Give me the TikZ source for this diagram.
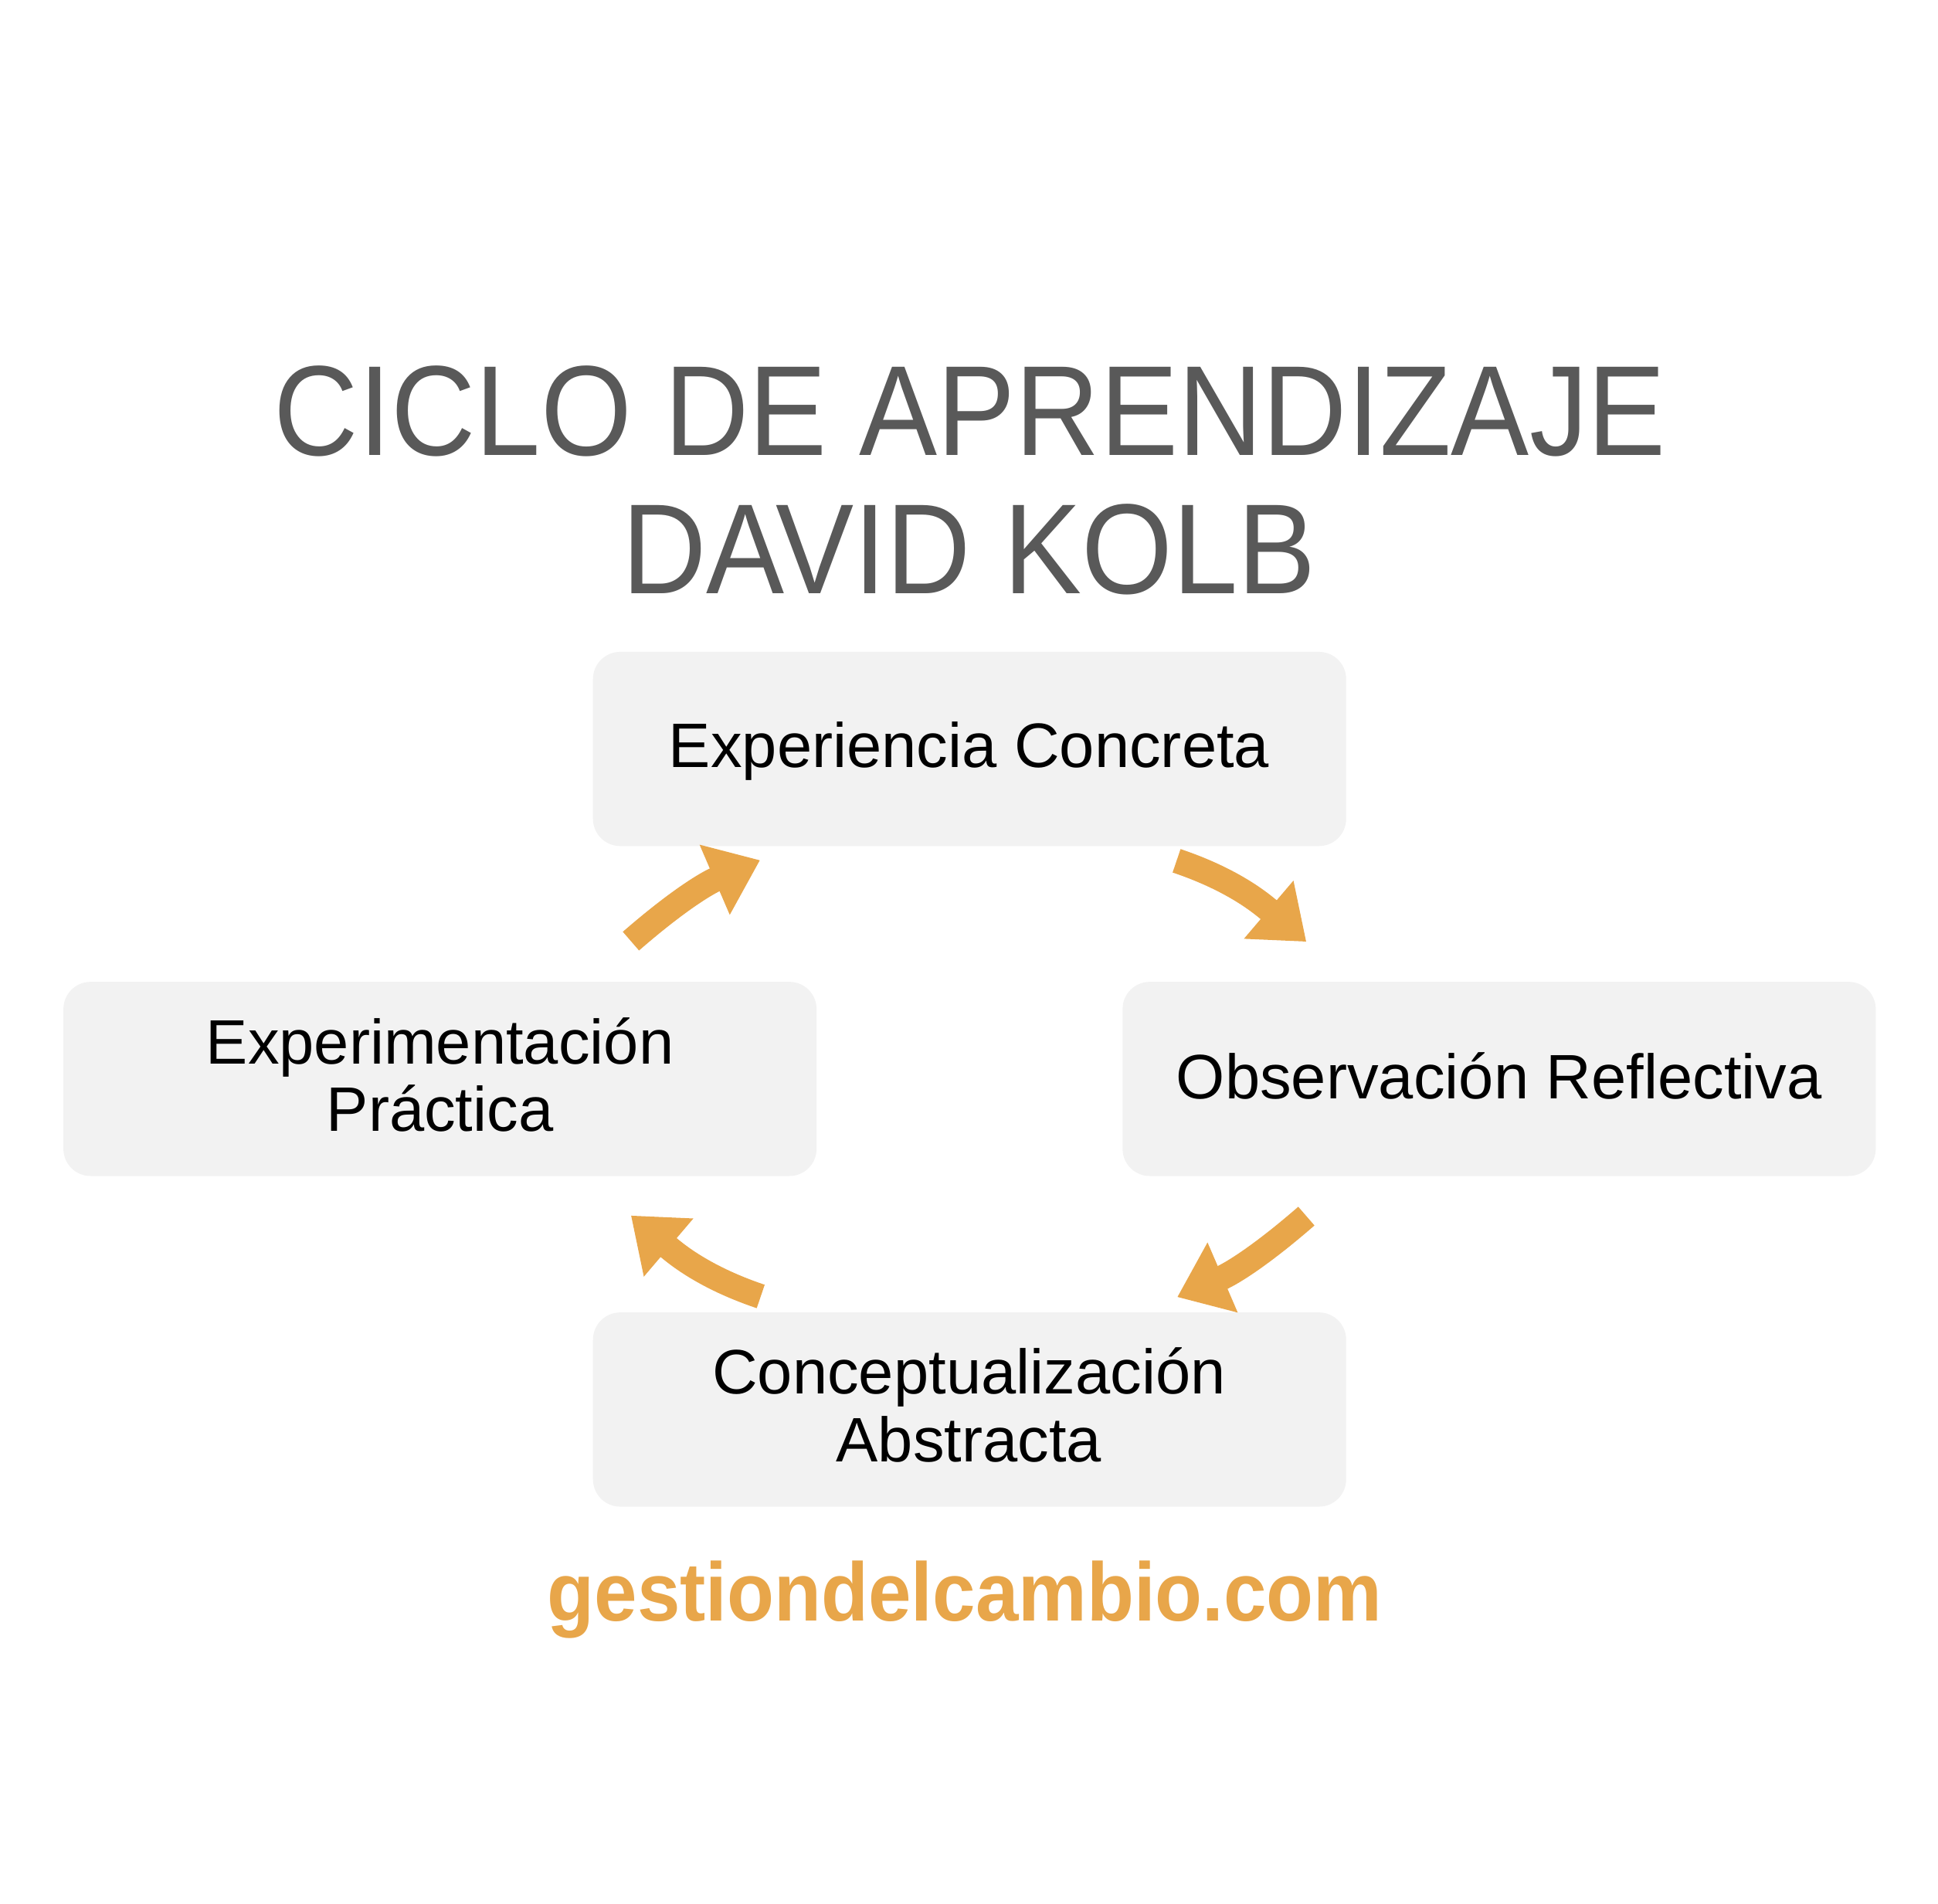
\documentclass[tikz,border=0pt]{standalone}
\usepackage{fontspec}
\setmainfont{Liberation Sans}
\newfontfamily\titlefont[FakeStretch=0.913]{Liberation Sans}
\newfontfamily\webfont[FakeStretch=0.93]{Liberation Sans}
\usetikzlibrary{arrows.meta}
\definecolor{titlegray}{HTML}{595959}
\definecolor{boxgray}{HTML}{F2F2F2}
\definecolor{kolborange}{HTML}{E8A64A}
\begin{document}
\begin{tikzpicture}[x=0.01cm,y=0.01cm,
  stagebox/.style={rectangle,rounded corners=0.22cm,fill=boxgray,draw=none,
    minimum width=6.09cm,minimum height=1.57cm,inner sep=0pt},
  stagetext/.style={anchor=base,inner sep=0pt,text=black,
    font=\fontsize{14.45pt}{15.5pt}\selectfont},
  titletext/.style={anchor=base,inner sep=0pt,text=titlegray,
    font=\titlefont\fontsize{29.5pt}{31.7pt}\selectfont},
  webtext/.style={anchor=base,inner sep=0pt,text=kolborange,
    font=\webfont\bfseries\fontsize{19.06pt}{21pt}\selectfont},
  cyclearrow/.style={draw=kolborange,line width=0.2cm,
    -{Triangle[length=0.40cm,width=0.59cm]}}
]
\path[fill=white,use as bounding box] (0,0) rectangle (1568.1,-1540);

% title
\node[titletext] (t1) at (785,-368.6) {CICLO DE APRENDIZAJE};
\node[titletext] (t2) at (784,-480) {DAVID KOLB};

% boxes
\node[stagebox] (ec) at (784.5,-606) {};
\node[stagebox] (ep) at (356,-873) {};
\node[stagebox] (ob) at (1213,-873) {};
\node[stagebox] (ca) at (784.5,-1140.5) {};

% box texts
\node[stagetext] (ectx) at (784.1,-620.8) {Experiencia Concreta};
\node[stagetext] (eptx1) at (356,-861) {Experimentación};
\node[stagetext] (eptx2) at (356,-915.5) {Práctica};
\node[stagetext] (obtx) at (1213,-889) {Observación Reflectiva};
\node[stagetext] (catx1) at (784,-1127.6) {Conceptualización};
\node[stagetext] (catx2) at (784,-1182.9) {Abstracta};

% arrow end points
\coordinate (a1s) at (510.5,-761.5);
\coordinate (a1e) at (615,-696);
\coordinate (a2s) at (952,-696.5);
\coordinate (a2e) at (1057,-762);
\coordinate (a3s) at (1057,-984);
\coordinate (a3e) at (952.5,-1049.5);
\coordinate (a4s) at (615.5,-1049);
\coordinate (a4e) at (510.5,-983.5);

\draw[cyclearrow] (a1s) to[out=41,in=203.3] (a1e);
\draw[cyclearrow] (a2s) to[out=-18.6,in=139.6] (a2e);
\draw[cyclearrow] (a3s) to[out=221,in=23.3] (a3e);
\draw[cyclearrow] (a4s) to[out=161.4,in=-40.4] (a4e);

% website
\node[webtext] (web) at (780.7,-1311.8) {gestiondelcambio.com};
\end{tikzpicture}
\end{document}
